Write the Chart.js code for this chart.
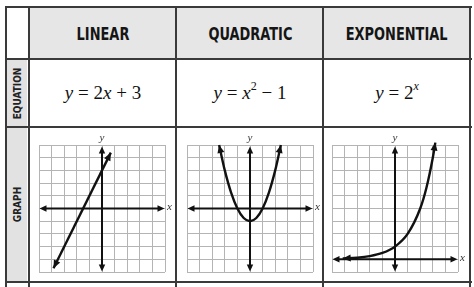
<!DOCTYPE html>
<html>
<head>
<meta charset="utf-8">
<script src="https://cdn.jsdelivr.net/npm/chart.js@4"></script>
<style>
html,body{margin:0;padding:0;background:#fff;}
body{width:474px;height:287px;position:relative;overflow:hidden;}
.abs{position:absolute;}
.hl{position:absolute;height:2px;background:#3a3a3a;}
.vl{position:absolute;width:2px;background:#3a3a3a;}
.hdr{position:absolute;top:8px;height:50px;display:flex;align-items:center;justify-content:center;
 font-family:"DejaVu Sans Condensed","DejaVu Sans",sans-serif;font-weight:bold;font-size:18px;color:#151515;}
.hdr span{display:inline-block;transform:scaleX(0.8);}
.eq{position:absolute;top:60px;height:66px;display:flex;align-items:center;justify-content:center;
 font-family:"Liberation Serif","DejaVu Serif",serif;font-size:19px;color:#111;white-space:pre;}
.eq i{font-style:italic;}
.eq sup{font-size:12px;position:relative;top:-2px;}
.lab{position:absolute;display:flex;align-items:center;justify-content:center;
 font-family:"DejaVu Sans Condensed","DejaVu Sans",sans-serif;font-weight:bold;font-size:10px;color:#222;}
.lab span{transform:rotate(-90deg);white-space:nowrap;display:inline-block;}
</style>
</head>
<body>
<!-- backgrounds -->
<div class="abs" style="left:30px;top:8px;width:440px;height:50px;background:#e6e6e6;"></div>
<div class="abs" style="left:7px;top:60px;width:20px;height:66px;background:#e2e2e2;"></div>
<div class="abs" style="left:7px;top:128px;width:20px;height:153px;background:#e2e2e2;"></div>

<!-- headers -->
<div class="hdr" style="left:30px;width:146px;"><span id="h0"></span></div>
<div class="hdr" style="left:177px;width:146px;"><span id="h1"></span></div>
<div class="hdr" style="left:324px;width:146px;"><span id="h2"></span></div>

<!-- equations -->
<div class="eq" style="left:30px;width:146px;"><span><i>y</i> = 2<i>x</i> + 3</span></div>
<div class="eq" style="left:177px;width:146px;"><span><i>y</i> = <i>x</i><sup>2</sup> − 1</span></div>
<div class="eq" style="left:324px;width:146px;"><span><i>y</i> = 2<sup><i>x</i></sup></span></div>

<!-- row labels -->
<div class="lab" style="left:7px;top:60px;width:22px;height:66px;"><span id="r0"></span></div>
<div class="lab" style="left:7px;top:128px;width:22px;height:153px;"><span id="r1"></span></div>

<!-- charts -->
<div class="abs" style="left:28px;top:132px;width:151px;height:146px;"><canvas id="c0" width="151" height="146"></canvas></div>
<div class="abs" style="left:176px;top:132px;width:151px;height:146px;"><canvas id="c1" width="151" height="146"></canvas></div>
<div class="abs" style="left:321px;top:132px;width:151px;height:146px;"><canvas id="c2" width="151" height="146"></canvas></div>

<!-- table lines -->
<div class="hl" style="left:5px;top:6px;width:467px;"></div>
<div class="hl" style="left:5px;top:58px;width:467px;"></div>
<div class="hl" style="left:5px;top:126px;width:467px;"></div>
<div class="hl" style="left:5px;top:281px;width:467px;"></div>
<div class="vl" style="left:5px;top:6px;height:281px;"></div>
<div class="vl" style="left:28px;top:6px;height:281px;"></div>
<div class="vl" style="left:175px;top:6px;height:281px;"></div>
<div class="vl" style="left:322px;top:6px;height:281px;"></div>
<div class="vl" style="left:469px;top:6px;height:281px;"></div>

<script>
// ---- data ----
const columnTitles = ["LINEAR", "QUADRATIC", "EXPONENTIAL"];
const rowLabels = ["EQUATION", "GRAPH"];

const linearX = [-3.85, 0.7];
const linearY = [-4.7, 4.4];

const quadX = [-2.45, -2, -1.5, -1, -0.5, 0, 0.5, 1, 1.5, 2, 2.45];
const quadY = [5, 3, 1.25, 0, -0.75, -1, -0.75, 0, 1.25, 3, 5];

const expX = [-4.15, -3, -2, -1, 0, 1, 2, 2.5, 3, 3.2];
const expY = [0.06, 0.125, 0.25, 0.5, 1, 2, 4, 5.66, 8, 9.19];

const xRange = [-5, 5];
const yRangeLinear = [-5, 5];
const yRangeQuad = [-5, 5];
const yRangeExp = [-1, 9];

columnTitles.forEach((t, i) => document.getElementById('h' + i).textContent = t);
rowLabels.forEach((t, i) => document.getElementById('r' + i).textContent = t);

function arrowHead(ctx, tipX, tipY, fromX, fromY, len, half) {
  const a = Math.atan2(tipY - fromY, tipX - fromX);
  ctx.beginPath();
  ctx.moveTo(tipX, tipY);
  ctx.lineTo(tipX - len * Math.cos(a) + half * Math.sin(a), tipY - len * Math.sin(a) - half * Math.cos(a));
  ctx.lineTo(tipX - len * Math.cos(a) - half * Math.sin(a), tipY - len * Math.sin(a) + half * Math.cos(a));
  ctx.closePath();
  ctx.fill();
}

const axesPlugin = {
  id: 'axesArrows',
  beforeDatasetsDraw(chart) {
    const {ctx, chartArea: a, scales: {x, y}} = chart;
    const x0 = x.getPixelForValue(0), y0 = y.getPixelForValue(0);
    ctx.save();
    ctx.strokeStyle = '#111'; ctx.fillStyle = '#111'; ctx.lineWidth = 2;
    ctx.beginPath();
    ctx.moveTo(a.left + 4, y0); ctx.lineTo(a.right - 4, y0);
    ctx.moveTo(x0, a.top + 4); ctx.lineTo(x0, a.bottom - 4);
    ctx.stroke();
    arrowHead(ctx, a.left + 0.5, y0, a.right, y0, 7, 3.2);
    arrowHead(ctx, a.right - 0.5, y0, a.left, y0, 7, 3.2);
    arrowHead(ctx, x0, a.top + 1.5, x0, a.bottom, 7, 3.2);
    arrowHead(ctx, x0, a.bottom - 0.5, x0, a.top, 7, 3.2);
    ctx.font = 'italic 11px "Liberation Serif", serif';
    ctx.textAlign = 'center'; ctx.textBaseline = 'bottom';
    ctx.fillStyle = '#333';
    ctx.fillText('y', x0, a.top - 1);
    ctx.textAlign = 'left'; ctx.textBaseline = 'middle';
    ctx.fillText('x', a.right + 2, y0 - 1);
    ctx.restore();
  },
  afterDatasetsDraw(chart) {
    const {ctx} = chart;
    const pts = chart.getDatasetMeta(0).data;
    const n = pts.length;
    ctx.save();
    ctx.fillStyle = '#111';
    const last = pts[n - 1], first = pts[0];
    let lx = (last.cp1x !== undefined && last.cp1x !== last.x) ? last.cp1x : pts[n - 2].x;
    let ly = (last.cp1y !== undefined && last.cp1x !== last.x) ? last.cp1y : pts[n - 2].y;
    let fx = (first.cp2x !== undefined && first.cp2x !== first.x) ? first.cp2x : pts[1].x;
    let fy = (first.cp2y !== undefined && first.cp2x !== first.x) ? first.cp2y : pts[1].y;
    arrowHead(ctx, last.x, last.y, lx, ly, 8, 3.5);
    arrowHead(ctx, first.x, first.y, fx, fy, 8, 3.5);
    ctx.restore();
  }
};

function makeChart(id, xs, ys, yr, smooth) {
  const data = xs.map((v, i) => ({x: v, y: ys[i]}));
  return new Chart(document.getElementById(id), {
    type: 'scatter',
    data: {datasets: [{
      data, showLine: true, borderColor: '#111', borderWidth: 2.4,
      pointRadius: 0, pointHoverRadius: 0, fill: false, clip: false,
      cubicInterpolationMode: smooth ? 'monotone' : 'default', tension: smooth ? 0.4 : 0
    }]},
    options: {
      responsive: false, animation: false, devicePixelRatio: 1,
      layout: {padding: {left: 11, right: 14, top: 13, bottom: 6}},
      plugins: {legend: {display: false}, tooltip: {enabled: false}},
      events: [],
      scales: {
        x: {type: 'linear', min: xRange[0], max: xRange[1],
            ticks: {display: false, stepSize: 1},
            grid: {color: '#b4b4b4', lineWidth: 1, drawTicks: false},
            border: {display: false}},
        y: {type: 'linear', min: yr[0], max: yr[1],
            ticks: {display: false, stepSize: 1},
            grid: {color: '#b4b4b4', lineWidth: 1, drawTicks: false},
            border: {display: false}}
      }
    },
    plugins: [axesPlugin]
  });
}

makeChart('c0', linearX, linearY, yRangeLinear, false);
makeChart('c1', quadX, quadY, yRangeQuad, true);
makeChart('c2', expX, expY, yRangeExp, true);
</script>
</body>
</html>
